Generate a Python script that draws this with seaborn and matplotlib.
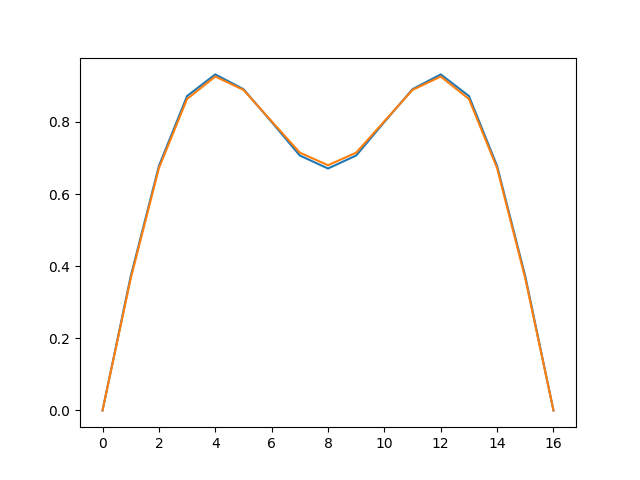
import matplotlib
matplotlib.use("Agg")
import matplotlib.pyplot as plt
import seaborn as sns

x = list(range(17))
blue = [0.0, 0.372, 0.678, 0.872, 0.932, 0.891, 0.800, 0.707, 0.671,
        0.707, 0.800, 0.891, 0.932, 0.872, 0.678, 0.372, 0.0]
orange = [0.0, 0.366, 0.672, 0.864, 0.926, 0.889, 0.802, 0.715, 0.680,
          0.715, 0.802, 0.889, 0.926, 0.864, 0.672, 0.366, 0.0]

fig, ax = plt.subplots(figsize=(6.4, 4.8), dpi=100)
sns.lineplot(x=x, y=blue, ax=ax, color="#1f77b4")
sns.lineplot(x=x, y=orange, ax=ax, color="#ff7f0e")

fig.savefig("out.png")
